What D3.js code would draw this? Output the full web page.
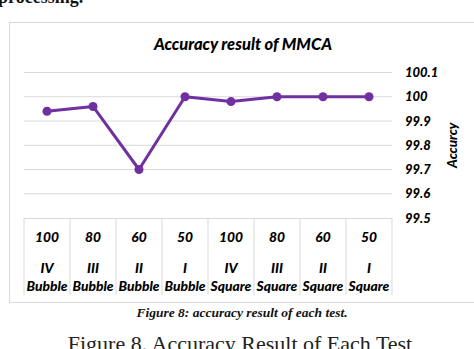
<!DOCTYPE html>
<html><head><meta charset="utf-8">
<script src="https://cdn.jsdelivr.net/npm/d3@7"></script>
<style>body{margin:0;background:#fff;}svg{display:block;}</style>
</head><body>
<svg id="c" width="474" height="349"></svg>
<script>
const sizes = ["100","80","60","50","100","80","60","50"];
const levels = ["IV","III","II","I","IV","III","II","I"];
const methods = ["Bubble","Bubble","Bubble","Bubble","Square","Square","Square","Square"];
const accuracy = [99.94, 99.96, 99.70, 100.00, 99.98, 100.00, 100.00, 100.00];
const yTicks = [99.5, 99.6, 99.7, 99.8, 99.9, 100, 100.1];
const title = "Accuracy result of MMCA";
const yTitle = "Accurcy";

const svg = d3.select("#c");
const purple = "#7030A0";
const font = "Lato, 'Open Sans', sans-serif";
const idx = d3.range(accuracy.length);

// page text
svg.append("text").attr("x",-2).attr("y",3).attr("font-family","'Liberation Serif', serif")
  .attr("font-weight","bold").attr("font-size",18).attr("fill","#111").text("processing.");

// chart frame
svg.append("rect").attr("x",9.5).attr("y",22.5).attr("width",470).attr("height",280)
  .attr("fill","#fff").attr("stroke","#d9d9d9");

const x = d3.scaleBand().domain(idx).range([24,392]).padding(0);
const y = d3.scaleLinear().domain([99.5,100.1]).range([218,72.5]);

// gridlines
svg.append("g").selectAll("line").data(yTicks.slice(1)).join("line")
  .attr("x1",24).attr("x2",392).attr("y1",d=>y(d)).attr("y2",d=>y(d))
  .attr("stroke","#d9d9d9").attr("stroke-width",1);

// right axis labels
const ax = svg.append("g").attr("transform","translate(405,0)")
  .call(d3.axisRight(y).tickValues(yTicks).tickSize(0).tickPadding(0)
    .tickFormat(d=>d3.format("")(+d.toFixed(1))));
ax.select(".domain").remove();
ax.selectAll("text").attr("font-family",font).attr("font-style","italic")
  .attr("font-weight",900).attr("font-size",13).attr("fill","#000");

// y title
svg.append("text").attr("transform",`translate(457,${y(99.8)}) rotate(-90)`)
  .attr("text-anchor","middle").attr("font-family",font).attr("font-style","italic")
  .attr("font-weight",900).attr("font-size",13.5).attr("fill","#000").text(yTitle);

// title
svg.append("text").attr("x",243).attr("y",50).attr("text-anchor","middle")
  .attr("font-family",font).attr("font-style","italic").attr("font-weight",900)
  .attr("font-size",16.5).attr("fill","#000").text(title);

// table
const tb = svg.append("g");
tb.append("line").attr("x1",24).attr("x2",392).attr("y1",218.5).attr("y2",218.5).attr("stroke","#d9d9d9");
tb.selectAll("line.v").data(idx.concat([idx.length])).join("line").attr("class","v")
  .attr("x1",d=>d<idx.length?x(d):x.range()[1]).attr("x2",d=>d<idx.length?x(d):x.range()[1])
  .attr("y1",218).attr("y2",295).attr("stroke","#d9d9d9");
const rows = [[sizes,242],[levels,273],[methods,291]];
rows.forEach(([arr,yy])=>{
  tb.append("g").selectAll("text").data(arr).join("text")
    .attr("x",(d,i)=>x(i)+x.bandwidth()/2).attr("y",yy).attr("text-anchor","middle")
    .attr("font-family",font).attr("font-style","italic").attr("font-weight",900)
    .attr("font-size",13.8).attr("fill","#000").text(d=>d);
});

// line
const line = d3.line().x((d,i)=>x(i)+x.bandwidth()/2).y(d=>y(d));
svg.append("path").datum(accuracy).attr("d",line).attr("fill","none")
  .attr("stroke",purple).attr("stroke-width",3).attr("stroke-linejoin","round");
svg.append("g").selectAll("circle").data(accuracy).join("circle")
  .attr("cx",(d,i)=>x(i)+x.bandwidth()/2).attr("cy",d=>y(d)).attr("r",4.5).attr("fill",purple);

// captions
svg.append("text").attr("x",242).attr("y",317).attr("text-anchor","middle")
  .attr("font-family","'Liberation Serif', serif").attr("font-style","italic").attr("font-weight","bold")
  .attr("font-size",13.5).attr("fill","#111").text("Figure 8: accuracy result of each test.");
svg.append("text").attr("x",240).attr("y",351).attr("text-anchor","middle")
  .attr("font-family","'Liberation Serif', serif").attr("font-size",22).attr("fill","#222")
  .text("Figure 8. Accuracy Result of Each Test");
</script>
</body></html>
